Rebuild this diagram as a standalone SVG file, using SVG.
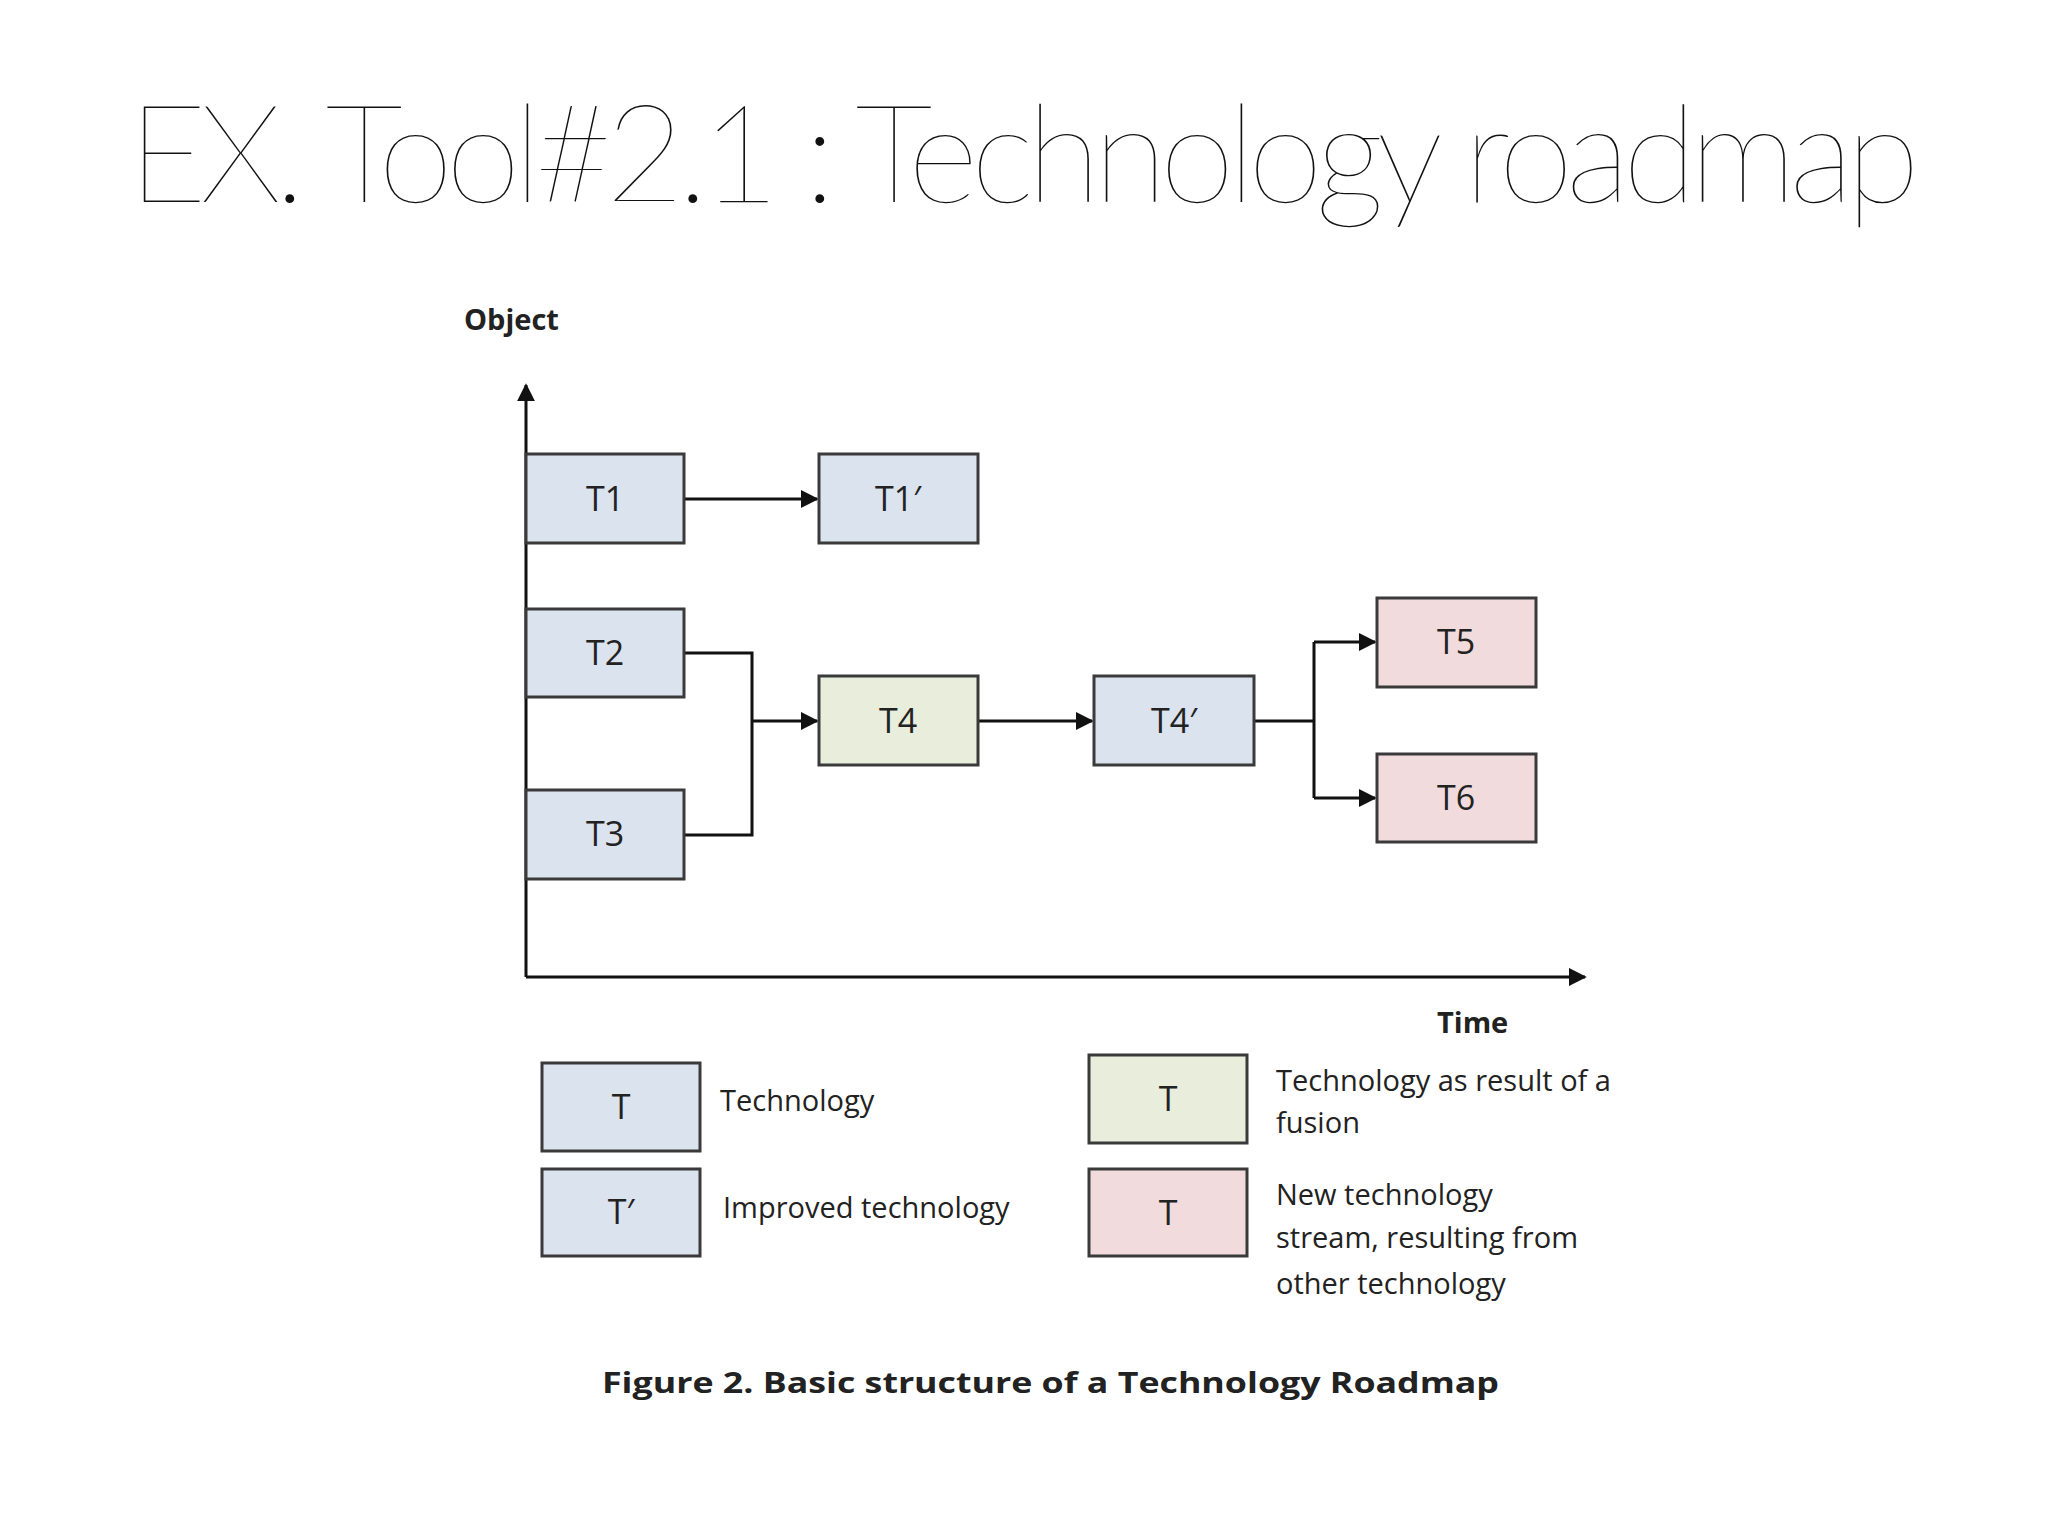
<svg xmlns="http://www.w3.org/2000/svg" width="2048" height="1536" viewBox="0 0 2048 1536">
<style>
.b{stroke:#3a3a3a;stroke-width:3}
.bl{fill:#dbe3ee}.gr{fill:#e8eedb}.pk{fill:#f1dbdc}
.lbl{font-family:"Open Sans","Liberation Sans",sans-serif;font-size:34px;fill:#222;text-anchor:middle}
.txt{font-family:"Open Sans","Liberation Sans",sans-serif;font-size:29px;fill:#222}
.ln{stroke:#111;stroke-width:3;fill:none}
</style>
<defs><marker id="a" viewBox="0 0 10 10" refX="9" refY="5" markerWidth="6" markerHeight="6" orient="auto"><path d="M0,0L10,5L0,10z" fill="#111"/></marker></defs>
<rect width="2048" height="1536" fill="#fff"/>
<text x="128" y="202" font-family="Lato,'Liberation Sans',sans-serif" font-weight="200" font-size="136" textLength="1792" fill="#111">EX. Tool#2.1 : Technology roadmap</text>
<text x="464" y="330" class="txt" font-weight="bold" font-size="30">Object</text>
<text x="1437" y="1033" class="txt" font-weight="bold" font-size="30">Time</text>
<g id="connectors">
<path class="ln" d="M526,977V385" marker-end="url(#a)"/>
<path class="ln" d="M526,977H1585" marker-end="url(#a)"/>
<path class="ln" d="M684,499H817" marker-end="url(#a)"/>
<path class="ln" d="M684,653H752V835H684M752,721H817" marker-end="url(#a)"/>
<path class="ln" d="M978,721H1092" marker-end="url(#a)"/>
<path class="ln" d="M1254,721H1314M1314,642V798"/>
<path class="ln" d="M1314,642H1375" marker-end="url(#a)"/>
<path class="ln" d="M1314,798H1375" marker-end="url(#a)"/>
</g>
<g id="T1"><rect class="b bl" x="526" y="454" width="158" height="89"/><text class="lbl" x="605" y="511">T1</text></g>
<g id="T1p"><rect class="b bl" x="819" y="454" width="159" height="89"/><text class="lbl" x="898" y="511">T1′</text></g>
<g id="T2"><rect class="b bl" x="526" y="609" width="158" height="88"/><text class="lbl" x="605" y="665">T2</text></g>
<g id="T3"><rect class="b bl" x="526" y="790" width="158" height="89"/><text class="lbl" x="605" y="846">T3</text></g>
<g id="T4"><rect class="b gr" x="819" y="676" width="159" height="89"/><text class="lbl" x="898" y="733">T4</text></g>
<g id="T4p"><rect class="b bl" x="1094" y="676" width="160" height="89"/><text class="lbl" x="1174" y="733">T4′</text></g>
<g id="T5"><rect class="b pk" x="1377" y="598" width="159" height="89"/><text class="lbl" x="1456" y="654">T5</text></g>
<g id="T6"><rect class="b pk" x="1377" y="754" width="159" height="88"/><text class="lbl" x="1456" y="810">T6</text></g>
<g id="legend">
<rect class="b bl" x="542" y="1063" width="158" height="88"/><text class="lbl" x="621" y="1119">T</text>
<text class="txt" x="720" y="1111">Technology</text>
<rect class="b bl" x="542" y="1169" width="158" height="87"/><text class="lbl" x="621" y="1224">T′</text>
<text class="txt" x="723" y="1218">Improved technology</text>
<rect class="b gr" x="1089" y="1055" width="158" height="88"/><text class="lbl" x="1168" y="1111">T</text>
<text class="txt" x="1276" y="1091">Technology as result of a</text>
<text class="txt" x="1276" y="1133">fusion</text>
<rect class="b pk" x="1089" y="1169" width="158" height="87"/><text class="lbl" x="1168" y="1225">T</text>
<text class="txt" x="1276" y="1205">New technology</text>
<text class="txt" x="1276" y="1248">stream, resulting from</text>
<text class="txt" x="1276" y="1294">other technology</text>
</g>
<text x="602" y="1393" class="txt" font-weight="bold" font-size="38" textLength="897" lengthAdjust="spacingAndGlyphs">Figure 2. Basic structure of a Technology Roadmap</text>
</svg>
